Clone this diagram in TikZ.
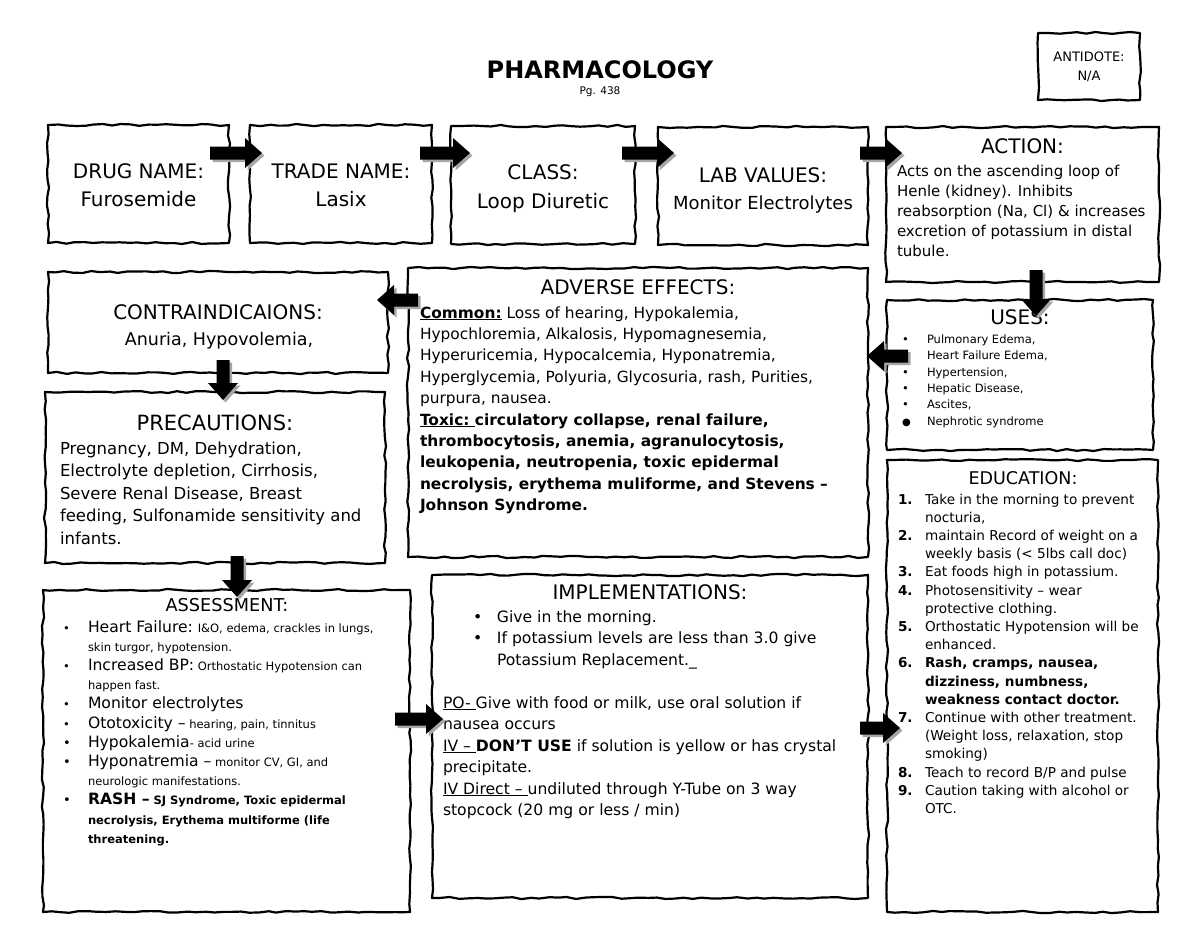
\documentclass[tikz,border=0pt]{standalone}
\usepackage{fontspec}
\setmainfont{DejaVu Sans}
\usetikzlibrary{decorations.pathmorphing,calc}
\newcommand\fsz[2]{\fontsize{#1}{#2}\selectfont}
\newcommand\tbl[1]{\begin{tabular}[t]{@{}l@{}}#1\end{tabular}}
\newcommand\tbc[1]{\begin{tabular}[t]{@{}c@{}}#1\end{tabular}}
\newcommand\arrowshape[2]{($(#1)!6.5pt!90:(#2)$) -- ($(#1-hb)!6.5pt!90:(#2)$) -- ($(#1-hb)!15pt!90:(#2)$) -- (#2) -- ($(#1-hb)!15pt!-90:(#2)$) -- ($(#1-hb)!6.5pt!-90:(#2)$) -- ($(#1)!6.5pt!-90:(#2)$) -- cycle}
\newcommand\blockarrow[2]{%
  \coordinate (#1-hb) at ($(#2)!17pt!(#1)$);
  \begin{scope}[transform canvas={shift={(2.5pt,-2.5pt)}}]
    \fill[black!35] \arrowshape{#1}{#2};
  \end{scope}
  \fill[black] \arrowshape{#1}{#2};
}
\tikzset{
  wbox/.style={draw=black, line width=2.2pt, fill=white, inner sep=0pt, outer sep=0pt,
    line join=round, decorate, decoration={random steps, segment length=9pt, amplitude=1.1pt}},
  txt/.style={inner sep=0pt, outer sep=0pt, anchor=base west},
  ctxt/.style={inner sep=0pt, outer sep=0pt, anchor=base},
}
\begin{document}
\begin{tikzpicture}[x=1pt,y=-1pt]
\pgfmathsetseed{4242}
\useasboundingbox (0,0) rectangle (1200,927);
\fill[white] (0,0) rectangle (1200,927);

% ---------- boxes ----------
\node[wbox, anchor=north west, minimum width=102pt, minimum height=67pt] (antidote) at (1038,33) {};
\node[wbox, anchor=north west, minimum width=181pt, minimum height=118pt] (drug) at (48,125) {};
\node[wbox, anchor=north west, minimum width=182pt, minimum height=118pt] (trade) at (250,125) {};
\node[wbox, anchor=north west, minimum width=184pt, minimum height=118pt] (class) at (451,126) {};
\node[wbox, anchor=north west, minimum width=210pt, minimum height=118pt] (lab) at (658,127) {};
\node[wbox, anchor=north west, minimum width=273pt, minimum height=155pt] (action) at (886,127) {};
\node[wbox, anchor=north west, minimum width=340pt, minimum height=101pt] (contra) at (48,272) {};
\node[wbox, anchor=north west, minimum width=460pt, minimum height=289pt] (adverse) at (408,268) {};
\node[wbox, anchor=north west, minimum width=266pt, minimum height=150pt] (uses) at (887,300) {};
\node[wbox, anchor=north west, minimum width=340pt, minimum height=171pt] (prec) at (45,392) {};
\node[wbox, anchor=north west, minimum width=367pt, minimum height=322pt] (assess) at (43,590) {};
\node[wbox, anchor=north west, minimum width=436pt, minimum height=323pt] (impl) at (432,575) {};
\node[wbox, anchor=north west, minimum width=271pt, minimum height=452pt] (educ) at (887,460) {};

% ---------- title ----------
\node[ctxt, font=\fsz{24}{28}\bfseries] (title) at (600,78) {PHARMACOLOGY};
\node[ctxt, font=\fsz{10.5}{12}] (pg) at (600,94) {Pg. 438};
\node[ctxt, font=\fsz{13}{19}] (antidotet) at (1089,61.5) {\tbc{ANTIDOTE:\\N/A}};

% ---------- top row ----------
\node[ctxt, font=\fsz{20}{28}] (drugt) at (138.5,178) {\tbc{DRUG NAME:\\Furosemide}};
\node[ctxt, font=\fsz{20}{28}] (tradet) at (341,178) {\tbc{TRADE NAME:\\Lasix}};
\node[ctxt, font=\fsz{20}{29}] (classt) at (543,179) {\tbc{CLASS:\\Loop Diuretic}};
\node[ctxt, font=\fsz{20}{27}] (labt) at (763,182) {\tbc{LAB VALUES:\\{\fsz{18}{27}Monitor Electrolytes}}};
\node[ctxt, font=\fsz{20}{24}] (actionh) at (1022.5,153) {ACTION:};
\node[txt, font=\fsz{15}{20}] (actiont) at (897,176) {\tbl{Acts on the ascending loop of\\
Henle (kidney). Inhibits\\
reabsorption (Na, Cl) \& increases\\
excretion of potassium in distal\\
tubule.}};

% ---------- contraindications ----------
\node[ctxt, font=\fsz{20}{24}] (contrah) at (218,319) {CONTRAINDICAIONS:};
\node[ctxt, font=\fsz{17.5}{24}] (contrat) at (219,345) {Anuria, Hypovolemia,};

% ---------- adverse effects ----------
\node[ctxt, font=\fsz{20}{24}] (adverseh) at (638,294) {ADVERSE EFFECTS:};
\node[txt, font=\fsz{15.4}{21.4}] (adverset) at (420,318) {\tbl{\underline{\textbf{Common:}} Loss of hearing, Hypokalemia,\\
Hypochloremia, Alkalosis, Hypomagnesemia,\\
Hyperuricemia, Hypocalcemia, Hyponatremia,\\
Hyperglycemia, Polyuria, Glycosuria, rash, Purities,\\
purpura, nausea.\\
\textbf{\underline{Toxic:\ }circulatory collapse, renal failure,}\\
\textbf{thrombocytosis, anemia, agranulocytosis,}\\
\textbf{leukopenia, neutropenia, toxic epidermal}\\
\textbf{necrolysis, erythema muliforme, and Stevens –}\\
\textbf{Johnson Syndrome.}}};

% ---------- uses ----------
\node[ctxt, font=\fsz{20}{24}] (usesh) at (1020,324) {USES:};
\node[txt, font=\fsz{11.5}{16.3}] (usest) at (902,343.5) {\tbl{\makebox[25pt][l]{•}Pulmonary Edema,\\
\makebox[25pt][l]{•}Heart Failure Edema,\\
\makebox[25pt][l]{•}Hypertension,\\
\makebox[25pt][l]{•}Hepatic Disease,\\
\makebox[25pt][l]{•}Ascites,\\
\makebox[25pt][l]{\fsz{10}{16.3}●}Nephrotic syndrome}};

% ---------- precautions ----------
\node[ctxt, font=\fsz{21}{24}] (prech) at (215,430) {PRECAUTIONS:};
\node[txt, font=\fsz{16.5}{22.5}] (prect) at (60,454) {\tbl{Pregnancy, DM, Dehydration,\\
Electrolyte depletion, Cirrhosis,\\
Severe Renal Disease, Breast\\
feeding, Sulfonamide sensitivity and\\
infants.}};

% ---------- education ----------
\node[ctxt, font=\fsz{17.5}{22}] (educh) at (1023,484) {EDUCATION:};
\node[txt, font=\fsz{13.6}{18.2}] (eductt) at (898,504) {\tbl{\makebox[27pt][l]{\textbf{1.}}Take in the morning to prevent\\
\hspace*{27pt}nocturia,\\
\makebox[27pt][l]{\textbf{2.}}maintain Record of weight on a\\
\hspace*{27pt}weekly basis (< 5lbs call doc)\\
\makebox[27pt][l]{\textbf{3.}}Eat foods high in potassium.\\
\makebox[27pt][l]{\textbf{4.}}Photosensitivity – wear\\
\hspace*{27pt}protective clothing.\\
\makebox[27pt][l]{\textbf{5.}}Orthostatic Hypotension will be\\
\hspace*{27pt}enhanced.\\
\makebox[27pt][l]{\textbf{6.}}\textbf{Rash, cramps, nausea,}\\
\hspace*{27pt}\textbf{dizziness, numbness,}\\
\hspace*{27pt}\textbf{weakness contact doctor.}\\
\makebox[27pt][l]{\textbf{7.}}Continue with other treatment.\\
\hspace*{27pt}(Weight loss, relaxation, stop\\
\hspace*{27pt}smoking)\\
\makebox[27pt][l]{\textbf{8.}}Teach to record B/P and pulse\\
\makebox[27pt][l]{\textbf{9.}}Caution taking with alcohol or\\
\hspace*{27pt}OTC.}};

% ---------- assessment ----------
\newcommand\bigA{\fsz{15.6}{19.2}}
\node[ctxt, font=\fsz{17.7}{22}] (assessh) at (227,611) {ASSESSMENT:};
\node[txt, font=\fsz{11.5}{19.2}] (assesst) at (63,632) {\tbl{\makebox[25pt][l]{•}{\bigA Heart Failure:} I\&O, edema, crackles in lungs,\\
\hspace*{25pt}skin turgor, hypotension.\\
\makebox[25pt][l]{•}{\bigA Increased BP:} Orthostatic Hypotension can\\
\hspace*{25pt}happen fast.\\
\makebox[25pt][l]{•}{\bigA Monitor electrolytes}\\
\makebox[25pt][l]{•}{\bigA Ototoxicity –} hearing, pain, tinnitus\\
\makebox[25pt][l]{\fsz{13}{19.2}•}{\bigA Hypokalemia}- acid urine\\
\makebox[25pt][l]{\fsz{13}{19.2}•}{\bigA Hyponatremia –} monitor CV, GI, and\\
\hspace*{25pt}neurologic manifestations.\\
\makebox[25pt][l]{\fsz{13}{19.2}•}\textbf{{\bigA RASH –} SJ Syndrome, Toxic epidermal}\\
\hspace*{25pt}\textbf{necrolysis, Erythema multiforme (life}\\
\hspace*{25pt}\textbf{threatening.}}};

% ---------- implementations ----------
\node[ctxt, font=\fsz{20}{24}] (implh) at (650,599) {IMPLEMENTATIONS:};
\node[txt, font=\fsz{15.6}{21.5}] (implt) at (443,622) {\tbl{\hspace*{30pt}\makebox[24pt][l]{•}Give in the morning.\\
\hspace*{30pt}\makebox[24pt][l]{•}If potassium levels are less than 3.0 give\\
\hspace*{54pt}Potassium Replacement.\_\\
~\\
\underline{PO-\ }Give with food or milk, use oral solution if\\
nausea occurs\\
\underline{IV –\ }\textbf{DON’T USE} if solution is yellow or has crystal\\
precipitate.\\
\underline{IV Direct –\ }undiluted through Y-Tube on 3 way\\
stopcock (20 mg or less / min)}};

% ---------- arrows ----------
\coordinate (a1s) at (210,153);  \coordinate (a1e) at (262,153);
\coordinate (a2s) at (420,153);  \coordinate (a2e) at (470,153);
\coordinate (a3s) at (622,153);  \coordinate (a3e) at (674,153);
\coordinate (a4s) at (860,153);  \coordinate (a4e) at (902,153);
\coordinate (a5s) at (1036,270); \coordinate (a5e) at (1036,316);
\coordinate (a6s) at (908,356);  \coordinate (a6e) at (867,356);
\coordinate (a7s) at (418,300);  \coordinate (a7e) at (377,300);
\coordinate (a8s) at (223,360);  \coordinate (a8e) at (223,400);
\coordinate (a9s) at (237,556);  \coordinate (a9e) at (237,597);
\coordinate (a10s) at (395,719); \coordinate (a10e) at (443,719);
\coordinate (a11s) at (860,728); \coordinate (a11e) at (900,728);
\blockarrow{a1s}{a1e}
\blockarrow{a2s}{a2e}
\blockarrow{a3s}{a3e}
\blockarrow{a4s}{a4e}
\blockarrow{a5s}{a5e}
\blockarrow{a6s}{a6e}
\blockarrow{a7s}{a7e}
\blockarrow{a8s}{a8e}
\blockarrow{a9s}{a9e}
\blockarrow{a10s}{a10e}
\blockarrow{a11s}{a11e}
\end{tikzpicture}
\end{document}
